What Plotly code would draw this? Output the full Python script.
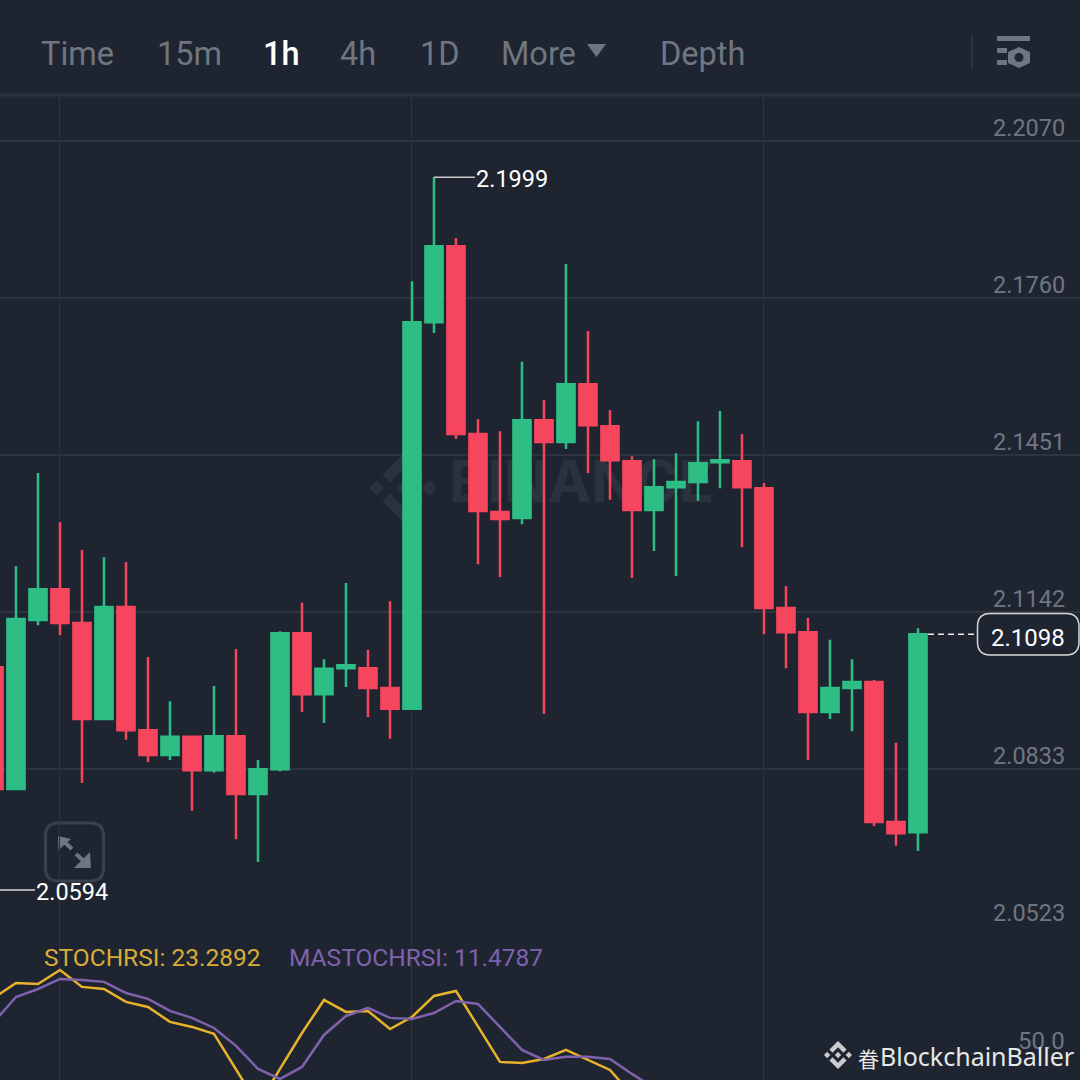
import plotly.graph_objects as go

W = 1080
H = 1080

# Candles (oldest on the left)
candle_index = list(range(43))
opens = [2.1033, 2.0793, 2.1126, 2.1187, 2.1120, 2.0931, 2.1152, 2.0909, 2.0860, 2.0896, 2.0830,
         2.0897, 2.0783, 2.0832, 2.1100, 2.0980, 2.1031, 2.1031, 2.0992, 2.0951, 2.1713, 2.1863,
         2.1493, 2.1339, 2.1327, 2.1520, 2.1477, 2.1591, 2.1508, 2.1439, 2.1343, 2.1388, 2.1398,
         2.1437, 2.1439, 2.1386, 2.1150, 2.1102, 2.0945, 2.0992, 2.1004, 2.0728, 2.0708]
highs = [2.1100, 2.1232, 2.1416, 2.1319, 2.1264, 2.1250, 2.1240, 2.1053, 2.0966, 2.0896, 2.0996,
         2.1069, 2.0850, 2.1104, 2.1160, 2.1049, 2.1199, 2.1067, 2.1163, 2.1794, 2.1999, 2.1879,
         2.1522, 2.1498, 2.1635, 2.1560, 2.1828, 2.1696, 2.1540, 2.1449, 2.1443, 2.1455, 2.1518,
         2.1538, 2.1493, 2.1396, 2.1193, 2.1130, 2.1087, 2.1049, 2.1008, 2.0884, 2.1110]
lows = [2.0780, 2.0793, 2.1116, 2.1096, 2.0805, 2.0931, 2.0890, 2.0846, 2.0850, 2.0750, 2.0825,
        2.0694, 2.0649, 2.0828, 2.0945, 2.0923, 2.0994, 2.0935, 2.0892, 2.0949, 2.1692, 2.1483,
        2.1236, 2.1211, 2.1315, 2.0941, 2.1463, 2.1416, 2.1363, 2.1209, 2.1262, 2.1213, 2.1361,
        2.1386, 2.1270, 2.1098, 2.1031, 2.0850, 2.0931, 2.0907, 2.0720, 2.0681, 2.0671]
closes = [2.0793, 2.1128, 2.1187, 2.1120, 2.0931, 2.1152, 2.0909, 2.0860, 2.0896, 2.0830, 2.0897,
          2.0783, 2.0832, 2.1100, 2.0980, 2.1030, 2.1037, 2.0992, 2.0951, 2.1713, 2.1863, 2.1493,
          2.1341, 2.1325, 2.1520, 2.1477, 2.1591, 2.1510, 2.1441, 2.1343, 2.1388, 2.1398, 2.1435,
          2.1441, 2.1388, 2.1150, 2.1102, 2.0945, 2.0992, 2.1004, 2.0728, 2.0706, 2.1098]

# Indicator lines
stoch_rsi = [82.8, 91.4, 90.8, 98.8, 89.1, 87.9, 80.5, 77.6, 69.0, 66.1, 62.1, 41.4, 21.3, 42.0, 62.6, 81.6,
             74.7, 75.3, 64.9, 71.8, 83.9, 86.8, 66.1, 46.0, 45.4, 47.7, 52.9, 47.1, 41.4, 27.0, 12.6]
ma_stoch_rsi = [69.0, 83.3, 87.9, 93.7, 93.1, 92.0, 85.6, 82.2, 75.3, 71.3, 65.5, 55.2, 42.0, 36.2, 43.1, 61.5,
                72.4, 77.0, 71.3, 70.7, 74.1, 81.0, 79.3, 66.1, 52.9, 47.1, 48.9, 48.9, 47.7, 39.1, 31.0]

price_ticks = [2.2070, 2.1760, 2.1451, 2.1142, 2.0833, 2.0523]
time_gridlines = [3, 19, 35]
menu_labels = ["Time", "15m", "1h", "4h", "1D", "More", "Depth"]
menu_left = [40, 156, 262, 339, 419, 500, 659]

BG = "#1f2530"
GRID = "#2d3440"
GREY = "#6f7681"
GREEN = "#2ebd85"
RED = "#f6465d"
YELLOW = "#e8b32b"
PURPLE = "#7f62ad"
FONT = "Roboto"


def fx(px):
    return px / W


def fy(py):
    return 1 - py / H


def pixel_path(points, close=True):
    path = "M " + " L ".join(f"{fx(x):.5f} {fy(y):.5f}" for x, y in points)
    return path + (" Z" if close else "")


def round_rect(x0, y0, x1, y1, r):
    def p(x, y):
        return f"{fx(x):.5f} {fy(y):.5f}"
    return (f"M {p(x0 + r, y0)} L {p(x1 - r, y0)} Q {p(x1, y0)} {p(x1, y0 + r)} "
            f"L {p(x1, y1 - r)} Q {p(x1, y1)} {p(x1 - r, y1)} L {p(x0 + r, y1)} "
            f"Q {p(x0, y1)} {p(x0, y1 - r)} L {p(x0, y0 + r)} Q {p(x0, y0)} {p(x0 + r, y0)} Z")


def add_shape_path(points, color):
    fig.add_shape(type="path", xref="paper", yref="paper", path=pixel_path(points),
                  fillcolor=color, line=dict(width=0), layer="below")


def add_logo(cx, cy, r, color):
    # diamond mark: three small squares plus two chevrons
    for dx in (-0.774, 0, 0.774):
        add_shape_path([(cx + (dx - 0.226) * r, cy), (cx + dx * r, cy - 0.226 * r),
                        (cx + (dx + 0.226) * r, cy), (cx + dx * r, cy + 0.226 * r)], color)
    for s in (-1, 1):
        add_shape_path([(cx - 0.388 * r, cy + s * 0.16 * r), (cx, cy + s * 0.548 * r),
                        (cx + 0.388 * r, cy + s * 0.16 * r), (cx + 0.614 * r, cy + s * 0.385 * r),
                        (cx, cy + s * r), (cx - 0.614 * r, cy + s * 0.385 * r)], color)


def add_text(text, px, py, size, color, anchor="left", weight=400, family=FONT):
    fig.add_annotation(text=text, xref="paper", yref="paper", x=fx(px), y=fy(py), xanchor=anchor,
                       yanchor="middle", showarrow=False, borderpad=0,
                       font=dict(family=family, size=size, color=color, weight=weight))


fig = go.Figure()

# watermark sits on its own base axes so the candles draw over it
fig.add_trace(go.Scatter(x=[26.7], y=[2.1388], mode="text", text=["BINANCE"], xaxis="x3", yaxis="y3",
                         textfont=dict(family="Inter", size=58, color="#2b313d", weight=700),
                         hoverinfo="skip", showlegend=False))

fig.add_trace(go.Candlestick(x=candle_index, open=opens, high=highs, low=lows, close=closes,
                             xaxis="x", yaxis="y", whiskerwidth=0, showlegend=False,
                             increasing=dict(line=dict(color=GREEN, width=2.5), fillcolor=GREEN),
                             decreasing=dict(line=dict(color=RED, width=2.5), fillcolor=RED)))

fig.add_trace(go.Scatter(x=candle_index[:len(stoch_rsi)], y=stoch_rsi, mode="lines", xaxis="x2", yaxis="y2",
                         line=dict(color=YELLOW, width=2.5), showlegend=False))
fig.add_trace(go.Scatter(x=candle_index[:len(ma_stoch_rsi)], y=ma_stoch_rsi, mode="lines", xaxis="x2", yaxis="y2",
                         line=dict(color=PURPLE, width=2.5), showlegend=False))

x_range = [0.273, 49.365]
split = 1 - 926 / H
top = 1 - 96 / H

fig.update_layout(
    width=W, height=H, margin=dict(l=0, r=0, t=0, b=0),
    paper_bgcolor=BG, plot_bgcolor=BG, boxgap=0.22, boxgroupgap=0, hovermode=False,
    xaxis3=dict(domain=[0, 1], range=x_range, anchor="y3", visible=False),
    yaxis3=dict(domain=[split, top], range=[2.0523, 2.2159], anchor="x3", visible=False),
    xaxis=dict(domain=[0, 1], range=x_range, overlaying="x3", anchor="y", rangeslider=dict(visible=False),
               tickmode="array", tickvals=time_gridlines, showticklabels=False,
               showgrid=True, gridcolor=GRID, gridwidth=1, zeroline=False, showline=False, ticks=""),
    yaxis=dict(domain=[split, top], range=[2.0523, 2.2159], overlaying="y3", anchor="x",
               tickmode="array", tickvals=price_ticks, showticklabels=False,
               showgrid=True, gridcolor=GRID, gridwidth=1.5, zeroline=False, showline=False, ticks=""),
    xaxis2=dict(domain=[0, 1], range=x_range, anchor="y2",
                tickmode="array", tickvals=time_gridlines, showticklabels=False,
                showgrid=True, gridcolor=GRID, gridwidth=1, zeroline=False, showline=False, ticks=""),
    yaxis2=dict(domain=[0, split], range=[35.6, 124.1], anchor="x2",
                showticklabels=False, showgrid=False, zeroline=False, showline=False, ticks=""),
)

# price labels sit just above their gridlines
for tick in price_ticks:
    fig.add_annotation(text=f"{tick:.4f}", xref="paper", yref="y", x=fx(1066), y=tick, yshift=-2, xanchor="right",
                       yanchor="bottom", showarrow=False, borderpad=0,
                       font=dict(family=FONT, size=23.5, color=GREY))

# top menu
for label, left in zip(menu_labels, menu_left):
    active = label == "1h"
    add_text(label, left, 54, 32.5, "#ffffff" if active else GREY, weight=500 if active else 400)

add_shape_path([(587, 44), (606, 44), (596.5, 57)], GREY)
fig.add_shape(type="line", xref="paper", yref="paper", x0=0, x1=1, y0=fy(95), y1=fy(95),
              line=dict(color=GRID, width=3), layer="below")
fig.add_shape(type="line", xref="paper", yref="paper", x0=fx(972), x1=fx(972), y0=fy(35), y1=fy(68),
              line=dict(color=GRID, width=2), layer="below")

# settings icon
add_shape_path([(997, 36), (1030, 36), (1030, 41), (997, 41)], GREY)
add_shape_path([(997, 48), (1007, 48), (1007, 53), (997, 53)], GREY)
add_shape_path([(997, 60), (1007, 60), (1007, 65), (997, 65)], GREY)
add_shape_path([(1019, 47), (1030, 52), (1030, 63), (1019, 68), (1008, 63), (1008, 52)], GREY)
fig.add_shape(type="circle", xref="paper", yref="paper", x0=fx(1014.5), x1=fx(1023.5), y0=fy(53), y1=fy(62),
              fillcolor=BG, line=dict(width=0))

# logos
add_logo(403, 488, 34, "#2b313d")
add_logo(838, 1055, 14, "#c9cbce")

# high / low / last price marks
high_i = highs.index(max(highs))
fig.add_shape(type="line", xref="x", yref="y", x0=high_i, x1=high_i + 41 / 22, y0=max(highs), y1=max(highs),
              line=dict(color="#c8c8c8", width=1.5))
fig.add_annotation(text=f"{max(highs):.4f}", xref="x", yref="y", x=high_i + 41 / 22, y=max(highs), yshift=-2,
                   xanchor="left", yanchor="middle", showarrow=False, borderpad=0,
                   font=dict(family=FONT, size=23.5, color="#ffffff"))

low_label = 2.0594
fig.add_shape(type="line", xref="paper", yref="y", x0=0, x1=fx(35), y0=low_label, y1=low_label,
              line=dict(color="#d8d8d8", width=1.5))
fig.add_annotation(text=f"{low_label:.4f}", xref="paper", yref="y", x=fx(35), y=low_label, yshift=-2,
                   xanchor="left", yanchor="middle", showarrow=False, borderpad=0,
                   font=dict(family=FONT, size=23.5, color="#ffffff"))

last_price = closes[-1]
fig.add_shape(type="line", xref="paper", yref="y", x0=fx(928), x1=fx(977), y0=last_price, y1=last_price,
              line=dict(color="#e8e8e8", width=1.5, dash="6px,4px"))
fig.add_shape(type="path", xref="paper", yref="paper", path=round_rect(977.5, 613.5, 1079, 655, 13),
              fillcolor=BG, line=dict(color="#d8d8d8", width=1.5))
add_text(f"{last_price:.4f}", 1028, 638, 24, "#ffffff", anchor="center")

# expand button
fig.add_shape(type="path", xref="paper", yref="paper", path=round_rect(45.5, 823, 103.5, 881, 13),
              line=dict(color="#3a404c", width=3), layer="below")
add_shape_path([(58, 836), (71, 839), (58.5, 850)], GREY)
add_shape_path([(91, 868), (90, 852), (74, 868)], GREY)
fig.add_shape(type="line", xref="paper", yref="paper", x0=fx(62), x1=fx(72), y0=fy(840), y1=fy(849),
              line=dict(color=GREY, width=4), layer="below")
fig.add_shape(type="line", xref="paper", yref="paper", x0=fx(76), x1=fx(86), y0=fy(854), y1=fy(863),
              line=dict(color=GREY, width=4), layer="below")

# indicator legend
add_text("STOCHRSI: 23.2892", 43, 957, 24.5, "#d9ac38")
add_text("MASTOCHRSI: 11.4787", 288, 957, 24.5, PURPLE)
add_text("50.0", 1066, 1041, 24, GREY, anchor="right")

# account watermark
add_text("眷", 857, 1058, 21, "#e8e8e8", family="Noto Sans CJK SC")
add_text("BlockchainBaller", 879, 1056, 25, "#e8e8e8", family="Noto Sans")

fig.write_html("out.html", config=dict(displayModeBar=False),
               post_script="document.body.style.margin='0';document.body.style.background='#1f2530';")
